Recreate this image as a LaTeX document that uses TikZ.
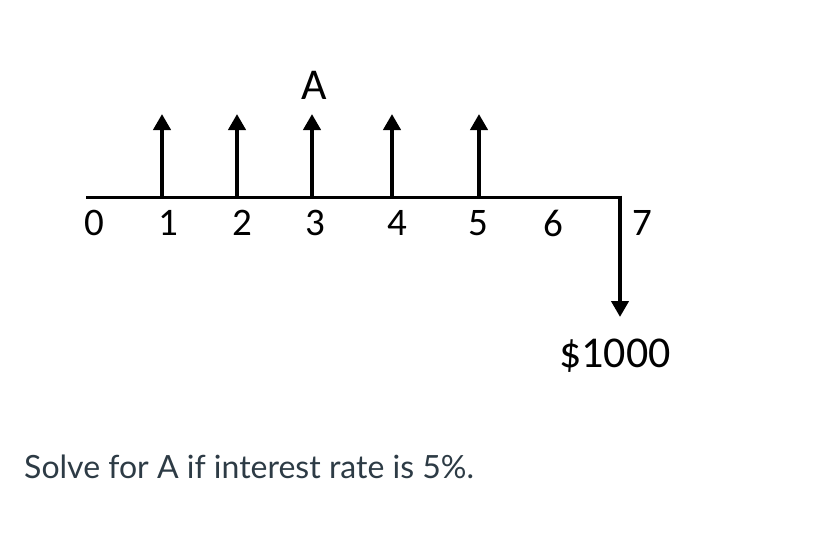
\documentclass[tikz,border=0pt]{standalone}
\usepackage{fontspec}
\setmainfont{Carlito}
\newfontfamily\latofont{Lato}
\usetikzlibrary{arrows.meta,positioning}
\definecolor{textgray}{HTML}{2D3B45}

\begin{document}
\begin{tikzpicture}[x=1pt,y=-1pt,
    flow/.style={line width=4pt,-{Triangle[width=17pt,length=16pt]}},
    period/.style={font=\fontsize{39}{39}\selectfont,inner sep=0pt},
    amount/.style={font=\fontsize{44}{44}\selectfont,inner sep=0pt}]
   \useasboundingbox (0,0) rectangle (818,544);

   % time line
   \coordinate (start) at (86,197);
   \coordinate (end)   at (622,197);
   \draw[line width=3pt] (start) -- (end);

   % period numbers
   \node[period] (t0) at (94,223)  {0};
   \node[period] (t1) at (168,223) {1};
   \node[period] (t2) at (242,223) {2};
   \node[period] (t3) at (315,223) {3};
   \node[period] (t4) at (397,223) {4};
   \node[period] (t5) at (478,223) {5};
   \node[period] (t6) at (553,223) {6};
   \node[period] (t7) at (642,223) {7};

   % payments A
   \coordinate (b1) at (162,197); \coordinate (a1) at (162,114);
   \coordinate (b2) at (237,197); \coordinate (a2) at (237,114);
   \coordinate (b3) at (312,197); \coordinate (a3) at (312,114);
   \coordinate (b4) at (392,197); \coordinate (a4) at (392,114);
   \coordinate (b5) at (479,197); \coordinate (a5) at (479,114);
   \draw[flow] (b1) -- (a1);
   \draw[flow] (b2) -- (a2);
   \draw[flow] (b3) -- (a3);
   \draw[flow] (b4) -- (a4);
   \draw[flow] (b5) -- (a5);
   \node[amount] (A) at (314,85) {A};

   % future amount
   \coordinate (b7) at (620,195.5);
   \coordinate (f7) at (620,317);
   \draw[flow] (b7) -- (f7);
   \node[amount] (F) at (615,356) {\$1000};

   \node[font=\latofont\fontsize{32}{32}\selectfont,text=textgray,
         anchor=base west,inner sep=0pt] (task) at (24,478)
         {Solve for A if interest rate is 5\%.};
\end{tikzpicture}
\end{document}
